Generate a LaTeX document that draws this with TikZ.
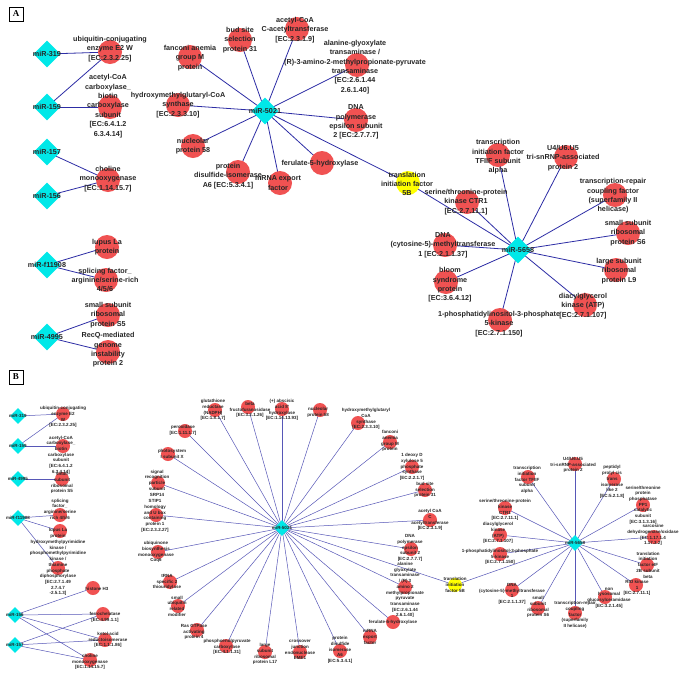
\documentclass[tikz,border=0pt]{standalone}
\usepackage{fontspec}
\setmainfont{Liberation Sans}
\newfontfamily\serifbox{Liberation Serif}
\usetikzlibrary{shapes.geometric}
\pgfdeclarelayer{bg}\pgfdeclarelayer{fg}\pgfdeclarelayer{paper}
\pgfsetlayers{paper,bg,main,fg}
\definecolor{cy}{RGB}{0,232,232}
\definecolor{rd}{RGB}{240,82,82}
\definecolor{yl}{RGB}{255,255,0}
\definecolor{ed}{RGB}{45,45,165}
\tikzset{
 gA/.style={circle,fill=rd,minimum size=24pt,inner sep=0},
 gB/.style={circle,fill=rd,minimum size=14pt,inner sep=0},
 yA/.style={gA,fill=yl}, yB/.style={gB,fill=yl},
 dA/.style={diamond,fill=cy,minimum size=27pt,inner sep=0},
 dB/.style={diamond,fill=cy,minimum size=16pt,inner sep=0},
 tA/.style={align=center,inner sep=0,font=\bfseries\fontsize{7.2}{9.4}\selectfont,text=black!85},
 tB/.style={align=center,inner sep=0,font=\bfseries\fontsize{4.5}{5.7}\selectfont,text=black!85},
 ed/.style={draw=ed,line width=0.8pt},
 edB/.style={draw=ed!80,line width=0.5pt},
 box/.style={draw,line width=0.6pt,minimum size=14pt,inner sep=0,font=\serifbox\bfseries\fontsize{9}{9}\selectfont}
}
\newcommand\GA[5][gA]{\node[#1] (#2) at (#3) {};\begin{pgfonlayer}{fg}\node[tA] (#2t) at (#4) {#5};\end{pgfonlayer}}
\newcommand\GB[5][gB]{\node[#1] (#2) at (#3) {};\begin{pgfonlayer}{fg}\node[tB] (#2t) at (#4) {#5};\end{pgfonlayer}}
\newcommand\MA[3]{\node[dA] (#1) at (#2) {};\begin{pgfonlayer}{fg}\node[tA] (#1t) at (#1) {#3};\end{pgfonlayer}}
\newcommand\MB[3]{\node[dB] (#1) at (#2) {};\begin{pgfonlayer}{fg}\node[tB] (#1t) at (#1) {#3};\end{pgfonlayer}}
\begin{document}
\begin{tikzpicture}[x=1pt,y=-1pt]
\begin{pgfonlayer}{paper}
\fill[white] (0,0) rectangle (685,673);
\end{pgfonlayer}
\useasboundingbox (0,0) rectangle (685,673);
\node[box] (boxA) at (16,14) {A};
\node[box] (boxB) at (16,377) {B};
% ---------- Panel A ----------
\MA{a319}{47,54}{miR-319}
\MA{a159}{47,107}{miR-159}
\MA{a157}{47,152}{miR-157}
\MA{a156}{47,196}{miR-156}
\MA{af}{47,265}{miR-f11908}
\MA{a4995}{47,337}{miR-4995}
\MA{a5021}{265,111}{miR-5021}
\MA{a5658}{518,250}{miR-5658}
\GA{aubq}{110,52}{110,49}{ubiquitin-conjugating\\enzyme E2 W\\{}[EC:2.3.2.25]}
\GA{aacc}{110,107}{108,106}{acetyl-CoA\\carboxylase\_\\biotin\\carboxylase\\subunit\\{}[EC:6.4.1.2\\6.3.4.14]}
\GA{acho}{108,180}{108,179}{choline\\monooxygenase\\{}[EC:1.14.15.7]}
\GA{alup}{107,247}{107,247}{lupus La\\protein}
\GA{aspl}{106,280}{105,280}{splicing factor\_\\arginine/serine-rich\\4/5/6}
\GA{as5}{108,315}{108,315}{small subunit\\ribosomal\\protein S5}
\GA{arec}{108,352}{108,350}{RecQ-mediated\\genome\\instability\\protein 2}
\GA{afan}{190,57}{190,58}{fanconi anemia\\group M\\protein}
\GA{abud}{240,40}{240,40}{bud site\\selection\\protein 31}
\GA{aacet}{297,29}{295,30}{acetyl-CoA\\C-acetyltransferase\\{}[EC:2.3.1.9]}
\GA{aala}{357,65}{355,67}{alanine-glyoxylate\\transaminase /\\(R)-3-amino-2-methylpropionate-pyruvate\\transaminase\\{}[EC:2.6.1.44\\2.6.1.40]}
\GA{apol}{356,120}{356,122}{DNA\\polymerase\\epsilon subunit\\2 [EC:2.7.7.7]}
\GA{ahmg}{178,105}{178,105}{hydroxymethylglutaryl-CoA\\synthase\\{}[EC:2.3.3.10]}
\GA{anuc}{193,146}{193,146}{nucleolar\\protein 58}
\GA{apdi}{238,172}{228,176}{protein\\disulfide-isomerase\\A6 [EC:5.3.4.1]}
\GA{amrna}{280,183}{278,183}{mRNA export\\factor}
\GA{afer}{322,163}{320,164}{ferulate-5-hydroxylase}
\GA[yA]{atif}{408,183}{407,184}{translation\\initiation factor\\5B}
\GA{atf2}{498,155}{498,157}{transcription\\initiation factor\\TFIIF subunit\\alpha}
\GA{au4}{566,157}{563,158}{U4/U6.U5\\tri-snRNP-associated\\protein 2}
\GA{actr}{467,202}{466,202}{serine/threonine-protein\\kinase CTR1\\{}[EC:2.7.11.1]}
\GA{atrc}{615,195}{613,196}{transcription-repair\\coupling factor\\(superfamily II\\helicase)}
\GA{as6}{628,233}{628,233}{small subunit\\ribosomal\\protein S6}
\GA{al9}{616,270}{619,271}{large subunit\\ribosomal\\protein L9}
\GA{adgk}{585,305}{583,306}{diacylglycerol\\kinase (ATP)\\{}[EC:2.7.1.107]}
\GA{api3}{500,320}{499,324}{1-phosphatidylinositol-3-phosphate\\5-kinase\\{}[EC:2.7.1.150]}
\GA{ablm}{446,282}{450,285}{bloom\\syndrome\\protein\\{}[EC:3.6.4.12]}
\GA{adnm}{445,245}{443,245}{DNA\\(cytosine-5)-methyltransferase\\1 [EC:2.1.1.37]}
% ---------- Panel B ----------
\MB{b319}{18,416}{miR-319}
\MB{b159}{18,446}{miR-159}
\MB{b4995}{18,479}{miR-4995}
\MB{bf}{18,518}{miR-f11908}
\MB{b156}{15,615}{miR-156}
\MB{b157}{15,645}{miR-157}
\MB{b5021}{282,528}{miR-5021}
\MB{b5658}{575,543}{miR-5658}
\GB{bubq}{63,414}{63,417}{ubiquitin-conjugating\\enzyme E2\\W\\{}[EC:2.3.2.25]}
\GB{bacc}{63,446}{61,455}{acetyl-CoA\\carboxylase\_\\biotin\\carboxylase\\subunit\\{}[EC:6.4.1.2\\6.3.4.14]}
\GB{bs5}{62,479}{62,483}{small\\subunit\\ribosomal\\protein S5}
\GB{bspl}{60,515}{60,509}{splicing\\factor\_\\arginine/serine\\rich 4/5/6}
\GB{blup}{60,531}{58,533}{lupus La\\protein}
\GB{bthi}{58,568}{58,568}{hydroxymethylpyrimidine\\kinase /\\phosphomethylpyrimidine\\kinase /\\thiamine\\phosphate\\diphosphorylase\\{}[EC:2.7.1.49\\2.7.4.7\\-2.5.1.3]}
\GB{bhis}{93,588}{97,589}{histone H3}
\GB{bfer}{103,614}{105,617}{ferrochelatase\\{}[EC:4.99.1.1]}
\GB{bket}{105,640}{108,640}{ketol-acid\\reductoisomerase\\{}[EC:1.1.1.86]}
\GB{bcho}{90,660}{90,662}{choline\\monooxygenase\\{}[EC:1.14.15.7]}
\GB{bper}{185,431}{183,430}{peroxidase\\{}[EC:1.11.1.7]}
\GB{bpsx}{168,454}{172,454}{photosystem\\I subunit X}
\GB{bsrp}{158,483}{157,483}{signal\\recognition\\particle\\subunit\\SRP14}
\GB{bstip}{156,515}{155,516}{STIP1\\homology\\and U box\\containing\\protein 1\\{}[EC:2.3.2.27]}
\GB{bcoq}{158,552}{156,552}{ubiquinone\\biosynthesis\\monooxygenase\\Coq6}
\GB{btrna}{170,582}{167,582}{tRNA\\specific 2\\thiouridylase}
\GB{bsumo}{178,606}{177,606}{small\\ubiquitin\\related\\modifier}
\GB{bras}{197,630}{194,632}{Ras GTPase\\activating\\protein 4}
\GB{bpep}{226,646}{227,647}{phosphoenolpyruvate\\carboxylase\\{}[EC:4.1.1.31]}
\GB{bl17}{265,652}{265,654}{large\\subunit\\ribosomal\\protein L17}
\GB{beme}{300,652}{300,650}{crossover\\junction\\endonuclease\\EME1}
\GB{bpdi}{340,651}{340,650}{protein\\disulfide\\isomerase\\A6\\{}[EC:5.3.4.1]}
\GB{bmrna}{370,637}{370,637}{mRNA\\export\\factor}
\GB{bfer5}{393,622}{393,622}{ferulate-5-hydroxylase}
\GB{bala}{405,587}{405,590}{alanine\\glyoxylate\\transaminase\\/ (R) 3\\amino 2\\methylpropionate\\pyruvate\\transaminase\\{}[EC:2.6.1.44\\2.6.1.40]}
\GB{bpol}{411,549}{410,548}{DNA\\polymerase\\epsilon\\subunit 2\\{}[EC:2.7.7.7]}
\GB[yB]{btif}{455,585}{455,585}{translation\\initiation\\factor 5B}
\GB{bacet}{430,520}{430,520}{acetyl CoA\\C\\acetyltransferase\\{}[EC:2.3.1.9]}
\GB{bbud}{425,490}{425,490}{bud site\\selection\\protein 31}
\GB{bdxs}{412,467}{412,467}{1 deoxy D\\xylulose 5\\phosphate\\synthase\\{}[EC:2.2.1.7]}
\GB{bfan}{390,442}{390,441}{fanconi\\anemia\\group M\\protein}
\GB{bhmg}{358,423}{366,419}{hydroxymethylglutaryl\\CoA\\synthase\\{}[EC:2.3.3.10]}
\GB{bnuc}{320,410}{318,412}{nucleolar\\protein 58}
\GB{baba}{282,409}{282,410}{(+) abscisic\\acid 8'\\hydroxylase\\{}[EC:1.14.13.93]}
\GB{bbeta}{248,407}{250,410}{beta\\fructofuranosidase\\{}[EC:3.2.1.26]}
\GB{bglu}{215,410}{213,410}{glutathione\\reductase\\(NADPH)\\{}[EC:1.8.1.7]}
\GB{btf2}{528,477}{527,480}{transcription\\initiation\\factor TFIIF\\subunit\\alpha}
\GB{bu4}{575,464}{573,465}{U4/U6.U5\\tri-snRNP-associated\\protein 2}
\GB{bppi}{614,479}{612,482}{peptidyl\\prolyl cis\\trans\\isomerase\\like 2\\{}[EC:5.2.1.8]}
\GB{bpp1}{643,505}{643,505}{serine/threonine\\protein\\phosphatase\\PP1\\catalytic\\subunit\\{}[EC:3.1.3.16]}
\GB{bsar}{654,537}{653,535}{sarcosine\\dehydrogenase/oxidase\\{}[EC:1.17.1.4\\1.17.3.2]}
\GB{bei2}{647,565}{648,565}{translation\\initiation\\factor eIF\\2B subunit\\beta}
\GB{brio}{636,585}{637,588}{RIO kinase\\1\\{}[EC:2.7.11.1]}
\GB{bgba}{605,597}{609,598}{non\\lysosomal\\glucosylceramidase\\{}[EC:3.2.1.45]}
\GB{btrc}{575,613}{575,615}{transcription-repair\\coupling\\factor\\(superfamily\\II helicase)}
\GB{bs6}{538,608}{538,607}{small\\subunit\\ribosomal\\protein S6}
\GB{bdnm}{512,590}{512,594}{DNA\\(cytosine-5)-methyltransferase\\1\\{}[EC:2.1.1.37]}
\GB{bpi3}{500,554}{500,557}{1-phosphatidylinositol-3-phosphate\\5-kinase\\{}[EC:2.7.1.150]}
\GB{bdgk}{500,535}{498,533}{diacylglycerol\\kinase\\(ATP)\\{}[EC:2.7.1.107]}
\GB{bctr}{505,508}{505,510}{serine/threonine-protein\\kinase\\CTR1\\{}[EC:2.7.11.1]}
% ---------- edges ----------
\begin{pgfonlayer}{bg}
\foreach \a/\b in {a319/aubq,a159/aubq,a159/aacc,a157/acho,a156/acho,af/alup,af/aspl,a4995/as5,a4995/arec}
  \draw[ed] (\a.center) -- (\b.center);
\foreach \b in {afan,abud,aacet,aala,apol,ahmg,anuc,apdi,amrna,afer,atif}
  \draw[ed] (a5021.center) -- (\b.center);
\foreach \b in {atif,atf2,au4,actr,atrc,as6,al9,adgk,api3,ablm,adnm}
  \draw[ed] (a5658.center) -- (\b.center);
\foreach \a/\b in {b319/bubq,b159/bubq,b159/bacc,b4995/bs5,bf/bspl,bf/blup,bf/bthi,b156/bhis,b156/bfer,b156/bket,b156/bcho,b157/bfer,b157/bket,b157/bcho}
  \draw[edB] (\a.center) -- (\b.center);
\foreach \b in {bper,bpsx,bsrp,bstip,bcoq,btrna,bsumo,bras,bpep,bl17,beme,bpdi,bmrna,bfer5,bala,bpol,btif,bacet,bbud,bdxs,bfan,bhmg,bnuc,baba,bbeta,bglu}
  \draw[edB] (b5021.center) -- (\b.center);
\foreach \b in {btif,btf2,bu4,bppi,bpp1,bsar,bei2,brio,bgba,btrc,bs6,bdnm,bpi3,bdgk,bctr}
  \draw[edB] (b5658.center) -- (\b.center);
\end{pgfonlayer}
\end{tikzpicture}
\end{document}
